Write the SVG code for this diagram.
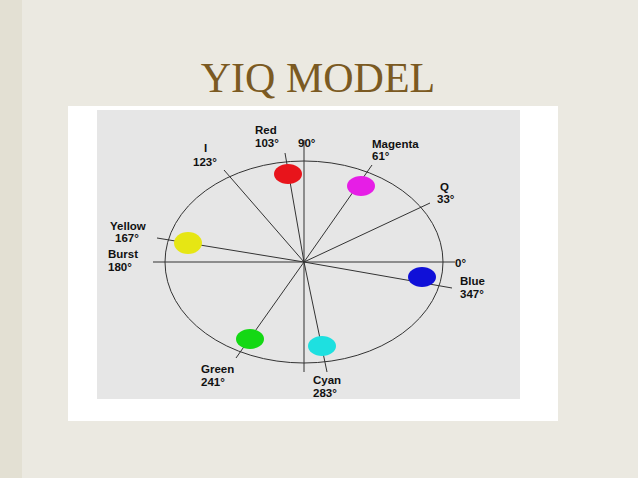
<svg xmlns="http://www.w3.org/2000/svg" width="638" height="478" viewBox="0 0 638 478">
<style>
.l{font-family:"Liberation Sans",Arial,sans-serif;font-weight:bold;font-size:11.5px;fill:#111}
.ln{stroke:#333;stroke-width:1;fill:none}
</style>
<rect width="638" height="478" fill="#ebe9e1"/>
<rect width="22" height="478" fill="#e3e0d3"/>
<text x="318" y="92" text-anchor="middle" font-family="Liberation Serif,serif" font-size="42" fill="#7b5a22">YIQ MODEL</text>
<rect x="68" y="106" width="490" height="315" fill="#fff"/>
<rect x="97" y="110" width="423" height="289" fill="#e6e6e6"/>
<g id="connectors">
<ellipse class="ln" cx="304" cy="262" rx="139" ry="101"/>
<line class="ln" x1="304" y1="140" x2="304" y2="372"/>
<line class="ln" x1="153" y1="262" x2="455" y2="262"/>
<line class="ln" x1="304" y1="262" x2="285" y2="153"/>
<line class="ln" x1="304" y1="262" x2="372" y2="165"/>
<line class="ln" x1="304" y1="262" x2="224" y2="170"/>
<line class="ln" x1="304" y1="262" x2="430" y2="203"/>
<line class="ln" x1="304" y1="262" x2="157" y2="238"/>
<line class="ln" x1="304" y1="262" x2="452" y2="288"/>
<line class="ln" x1="304" y1="262" x2="236" y2="358"/>
<line class="ln" x1="304" y1="262" x2="327" y2="372"/>
</g>
<g id="red"><ellipse cx="288" cy="174" rx="14" ry="10" fill="#e8141b"/><text class="l" x="255" y="134">Red</text><text class="l" x="255" y="147">103°</text></g>
<g id="axis90"><text class="l" x="298" y="147">90°</text></g>
<g id="I"><text class="l" x="204" y="152">I</text><text class="l" x="193" y="166">123°</text></g>
<g id="magenta"><ellipse cx="361" cy="186" rx="14" ry="10" fill="#e61ee6"/><text class="l" x="372" y="148">Magenta</text><text class="l" x="372" y="160">61°</text></g>
<g id="Q"><text class="l" x="440" y="191">Q</text><text class="l" x="437" y="203">33°</text></g>
<g id="yellow"><ellipse cx="188" cy="243" rx="14" ry="11" fill="#e6e614"/><text class="l" x="110" y="230">Yellow</text><text class="l" x="115" y="242">167°</text></g>
<g id="burst"><text class="l" x="108" y="258">Burst</text><text class="l" x="108" y="271">180°</text></g>
<g id="axis0"><text class="l" x="455" y="267">0°</text></g>
<g id="blue"><ellipse cx="422" cy="277" rx="14" ry="10" fill="#1010d8"/><text class="l" x="460" y="285">Blue</text><text class="l" x="460" y="298">347°</text></g>
<g id="green"><ellipse cx="250" cy="339" rx="14" ry="10" fill="#14d814"/><text class="l" x="201" y="373">Green</text><text class="l" x="201" y="386">241°</text></g>
<g id="cyan"><ellipse cx="322" cy="346" rx="14" ry="10" fill="#1ee0e0"/><text class="l" x="313" y="384">Cyan</text><text class="l" x="313" y="397">283°</text></g>
</svg>
